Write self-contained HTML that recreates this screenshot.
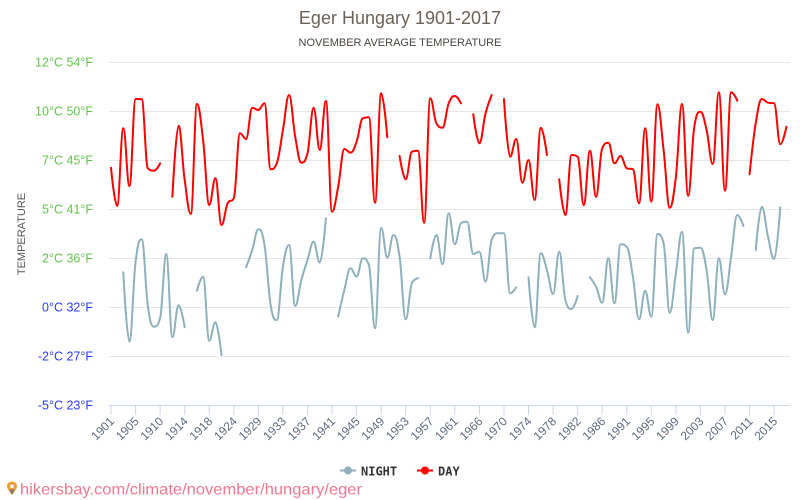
<!DOCTYPE html>
<html><head><meta charset="utf-8">
<style>
html,body{margin:0;padding:0;background:#fff;}
svg{display:block;font-family:"Liberation Sans",Arial,sans-serif;}
</style></head><body>
<svg id="c" width="800" height="500" viewBox="0 0 800 500" xmlns="http://www.w3.org/2000/svg">
<rect width="800" height="500" fill="#fff"/>
<text x="400" y="24" text-anchor="middle" font-size="18" fill="#6b6259">Eger Hungary 1901-2017</text>
<text x="400" y="46" text-anchor="middle" font-size="11" fill="#4a4540">NOVEMBER AVERAGE TEMPERATURE</text>
<g stroke="#e6e6e6" stroke-width="1">
<line x1="109" x2="790" y1="62.5" y2="62.5"/>
<line x1="109" x2="790" y1="111.5" y2="111.5"/>
<line x1="109" x2="790" y1="160.5" y2="160.5"/>
<line x1="109" x2="790" y1="209.5" y2="209.5"/>
<line x1="109" x2="790" y1="258.5" y2="258.5"/>
<line x1="109" x2="790" y1="307.5" y2="307.5"/>
<line x1="109" x2="790" y1="356.5" y2="356.5"/>
</g>
<line x1="109" x2="790" y1="405.5" y2="405.5" stroke="#ccd6eb" stroke-width="1"/>
<g id="ticks" stroke="#ccd6eb" stroke-width="1"></g>
<g font-size="12.5" text-anchor="end">
<text x="93" y="66.5" fill="#62c64a">12°C 54°F</text>
<text x="93" y="115.5" fill="#62c64a">10°C 50°F</text>
<text x="93" y="164.5" fill="#62c64a">7°C 45°F</text>
<text x="93" y="213.5" fill="#62c64a">5°C 41°F</text>
<text x="93" y="262.5" fill="#62c64a">2°C 36°F</text>
<text x="93" y="311.5" fill="#2a3cff">0°C 32°F</text>
<text x="93" y="360.5" fill="#2a3cff">-2°C 27°F</text>
<text x="93" y="409.5" fill="#2a3cff">-5°C 23°F</text>
</g>
<text x="0" y="0" font-size="11" fill="#555" text-anchor="middle" transform="translate(25,234) rotate(-90)">TEMPERATURE</text>
<g id="xl" font-size="12" fill="#5f6b7d" text-anchor="end"></g>
<path id="night" fill="none" stroke="#8eb1bb" stroke-width="2" stroke-linejoin="round" stroke-linecap="round"/>
<path id="day" fill="none" stroke="#ff0000" stroke-width="2" stroke-linejoin="round" stroke-linecap="round"/>
<!-- legend -->
<line x1="340" x2="356" y1="470.5" y2="470.5" stroke="#8eb1bb" stroke-width="2"/>
<circle cx="348" cy="470.5" r="4" fill="#8eb1bb"/>
<text x="361" y="475.5" font-family="'DejaVu Sans Mono',monospace" font-weight="bold" font-size="12" fill="#333">NIGHT</text>
<line x1="417" x2="433" y1="470.5" y2="470.5" stroke="#ff0000" stroke-width="2"/>
<circle cx="425" cy="470.5" r="4" fill="#ff0000"/>
<text x="438" y="475.5" font-family="'DejaVu Sans Mono',monospace" font-weight="bold" font-size="12" fill="#333">DAY</text>
<!-- footer -->
<path d="M12 481.5 C8.8 481.5 7 483.8 7 486.3 C7 489.5 12 495 12 495 C12 495 17 489.5 17 486.3 C17 483.8 15.2 481.5 12 481.5 Z" fill="#eda03a"/>
<path d="M9.5 489.5 L12 495 L14.5 489.5 Z" fill="#7a7a7a"/>
<circle cx="12" cy="486.3" r="1.8" fill="#fff"/>
<text x="20" y="494.3" font-size="16" fill="#f07890" textLength="342" lengthAdjust="spacingAndGlyphs">hikersbay.com/climate/november/hungary/eger</text>
</svg>
<script>
(function(){
var NS="http://www.w3.org/2000/svg";
var labels=["1901","1905","1910","1914","1918","1924","1929","1933","1937","1941","1945","1949","1953","1957","1961","1966","1970","1974","1978","1982","1986","1991","1995","1999","2003","2007","2011","2015"];
var tg=document.getElementById("ticks"), xl=document.getElementById("xl");
for(var k=0;k<labels.length;k++){
  var x=111+24.56*k;
  var l=document.createElementNS(NS,"line");
  l.setAttribute("x1",x.toFixed(1));l.setAttribute("x2",x.toFixed(1));
  l.setAttribute("y1","405");l.setAttribute("y2","415");
  tg.appendChild(l);
  var t=document.createElementNS(NS,"text");
  var tx=x+4, ty=422;
  t.setAttribute("x",tx.toFixed(1));t.setAttribute("y",ty);
  t.setAttribute("transform","rotate(-45 "+tx.toFixed(1)+" "+ty+")");
  t.textContent=labels[k];
  xl.appendChild(t);
}
var N=null;
var day=[167.7,206,128.3,186,99,99.3,168.3,170.7,163.3,N,
196.7,125.7,180,214,104,140,205,178.3,225,203.3,
198.3,133.3,139,107.7,110,103.3,169.3,163.3,130,95,
136.7,162.7,153.3,107.7,150,101,211.7,186.7,149,152.7,
141.7,118.3,117.3,202.7,93.3,137.3,N,156,179.3,151.7,
150.7,222.7,98.3,123.3,127.7,103.3,96,103.3,N,114.3,
143.3,113.3,95,N,99,156.7,139,182.7,160,200,
127.7,155,N,179.3,215,155,156.7,205,150.7,196.7,
148.3,142.7,163.3,156,168.3,169.3,203.3,128.3,201.7,104.3,
150,207.7,176.7,104,195.7,126.7,111.7,130,164,92.3,
190.7,92.3,100.7,N,174.3,123.3,99,102.7,103.3,144.3,
126.7];
var night=[N,N,272.3,341.7,262,239.3,306,326.7,318,254,
337.3,305.3,327.3,N,290.7,276.7,340.7,322.3,355,N,
N,N,267.3,250,229.3,245,305,320,266.7,245,
306,280,260,241.7,262.7,218.3,N,316.7,290,268.3,
276.7,258.3,265,328.3,227.7,257.7,235,256.7,319.3,283.3,
278.3,N,258.3,235,264.3,213.3,244.3,223.3,221.7,254,
251.7,281.7,240,233.3,233.3,293.3,287.3,N,277.3,327.3,
253.3,270,294,251.7,300,309,296,N,277.3,286.7,
302.7,258.3,303.3,244.3,246.7,276.7,319.3,290.7,316.7,234,
243.3,312.7,273.3,231.7,332.7,248.3,247.7,270,320,258.3,
294.3,256.7,215,226,N,250,206.7,236.7,259,207.3,
N];
function f(v){return v.toFixed(2);}
function spline(vals){
  var pts=vals.map(function(v,i){return v==null?null:{x:111+6.14*i,y:v};});
  var d="";
  for(var i=0;i<pts.length;i++){
    var p=pts[i]; if(!p) continue;
    var last=i>0?pts[i-1]:null, next=i<pts.length-1?pts[i+1]:null;
    var lcx=null,lcy=null,rcx=null,rcy=null;
    if(!last){ d+="M"+f(p.x)+" "+f(p.y); }
    if(last&&next){
      var s=1.5,dn=2.5;
      lcx=(s*p.x+last.x)/dn; lcy=(s*p.y+last.y)/dn;
      rcx=(s*p.x+next.x)/dn; rcy=(s*p.y+next.y)/dn;
      var corr=((rcy-lcy)*(rcx-p.x))/(rcx-lcx)+p.y-rcy;
      lcy+=corr; rcy+=corr;
      if(lcy>last.y&&lcy>p.y){lcy=Math.max(last.y,p.y);rcy=2*p.y-lcy;}
      else if(lcy<last.y&&lcy<p.y){lcy=Math.min(last.y,p.y);rcy=2*p.y-lcy;}
      if(rcy>next.y&&rcy>p.y){rcy=Math.max(next.y,p.y);lcy=2*p.y-rcy;}
      else if(rcy<next.y&&rcy<p.y){rcy=Math.min(next.y,p.y);lcy=2*p.y-rcy;}
      p.rcx=rcx;p.rcy=rcy;
    }
    if(last){
      d+="C"+f(last.rcx!=null?last.rcx:last.x)+" "+f(last.rcy!=null?last.rcy:last.y)+" "+
         f(lcx!=null?lcx:p.x)+" "+f(lcy!=null?lcy:p.y)+" "+f(p.x)+" "+f(p.y);
    }
  }
  return d;
}
document.getElementById("day").setAttribute("d",spline(day));
document.getElementById("night").setAttribute("d",spline(night));
})();
</script>
</body></html>
